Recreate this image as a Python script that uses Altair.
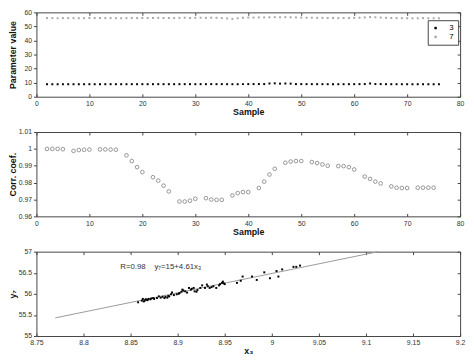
import altair as alt
import pandas as pd

FONT = "Liberation Sans"

# ---------- panel 1: parameter values per sample ----------
samples = list(range(2, 77))
series3 = [8.88, 8.87, 8.86, 8.87, 8.88, 8.87, 8.86, 8.88, 8.89, 8.87,
           8.88, 8.89, 8.90, 8.89, 8.88, 8.90, 8.91, 8.90, 8.92, 8.91,
           8.92, 8.93, 8.92, 8.91, 8.90, 8.93, 8.94, 8.92, 8.91, 8.93,
           8.92, 8.94, 8.93, 8.95, 8.90, 8.89, 8.88, 8.95, 8.96, 8.97,
           8.98, 9.00, 9.40, 9.50, 9.30, 9.40, 9.30, 8.99, 8.97, 8.95,
           8.94, 8.93, 8.92, 8.91, 8.90, 8.89, 8.90, 8.91, 8.92, 8.95,
           8.98, 9.40, 8.99, 8.96, 8.92, 8.90, 8.89, 8.88, 8.87, 8.86,
           8.87, 8.88, 8.87, 8.86, 8.87]
series7 = [55.9, 55.9, 55.8, 55.9, 55.9, 55.9, 55.8, 55.9, 56.0, 55.9,
           56.0, 55.9, 55.9, 55.9, 55.8, 55.9, 56.0, 55.9, 56.0, 56.0,
           56.0, 56.1, 56.0, 56.0, 55.9, 56.1, 56.2, 56.0, 56.1, 56.2,
           56.1, 56.2, 56.1, 55.9, 55.7, 55.4, 55.8, 56.2, 56.3, 56.3,
           56.4, 56.4, 56.5, 56.6, 56.5, 56.6, 56.5, 56.4, 56.3, 56.2,
           56.2, 56.1, 56.1, 56.0, 56.0, 55.9, 56.0, 56.0, 56.1, 56.2,
           56.4, 56.6, 56.5, 56.3, 56.1, 56.0, 55.9, 55.9, 55.8, 55.8,
           55.8, 55.9, 55.8, 55.8, 55.8]
series_names = ["3", "7"]

# ---------- panel 2: correlation coefficient ----------
corr_samples = [2, 3, 4, 5, 7, 8, 9, 10, 12, 13, 14, 15, 17, 18, 19, 20,
                22, 23, 24, 25, 27, 28, 29, 30, 32, 33, 34, 35, 37, 38, 39, 40,
                42, 43, 44, 45, 47, 48, 49, 50, 52, 53, 54, 55, 57, 58, 59, 60,
                62, 63, 64, 65, 67, 68, 69, 70, 72, 73, 74, 75]
corr_values = [1.0, 1.0, 1.0, 0.9998, 0.9988, 0.9993, 0.9995, 0.9996,
               0.9997, 0.9997, 0.9996, 0.9995, 0.9962, 0.9928, 0.9892, 0.9862,
               0.9832, 0.9812, 0.9782, 0.9748, 0.9688, 0.9688, 0.9693, 0.9704,
               0.9708, 0.9700, 0.9698, 0.9698, 0.9724, 0.9738, 0.9744, 0.9744,
               0.9768, 0.9806, 0.9848, 0.9882, 0.9918, 0.9925, 0.9928, 0.9928,
               0.9922, 0.9916, 0.9908, 0.9900, 0.9898, 0.9898, 0.9892, 0.9878,
               0.9836, 0.9822, 0.9806, 0.9795, 0.9778, 0.9770, 0.9768, 0.9768,
               0.9770, 0.9770, 0.9770, 0.9770]

# ---------- panel 3: x3 vs y7 scatter ----------
scatter_x = [8.858, 8.862, 8.863, 8.865, 8.866, 8.868, 8.869, 8.871, 8.874,
             8.875, 8.878, 8.880, 8.882, 8.884, 8.886, 8.887, 8.889, 8.891,
             8.893, 8.894, 8.896, 8.899, 8.901, 8.904, 8.905, 8.906, 8.908,
             8.910, 8.912, 8.914, 8.917, 8.918, 8.920, 8.924, 8.926, 8.929,
             8.931, 8.932, 8.934, 8.938, 8.941, 8.944, 8.945, 8.947, 8.948,
             8.950, 8.963, 8.967, 8.969, 8.979, 8.984, 8.992, 8.998, 9.005,
             9.007, 9.011, 9.023, 9.026, 9.030, 8.864, 8.867, 8.872, 8.890,
             8.902, 8.915, 8.921, 8.936, 8.949]
scatter_y = [55.80, 55.84, 55.88, 55.84, 55.87, 55.85, 55.88, 55.87, 55.90,
             55.88, 55.90, 55.94, 55.91, 55.93, 55.90, 55.93, 55.91, 55.94,
             55.99, 56.03, 55.97, 55.99, 56.00, 56.05, 56.10, 56.08, 56.06,
             56.03, 56.14, 56.10, 56.14, 56.06, 56.05, 56.14, 56.20, 56.14,
             56.22, 56.18, 56.14, 56.18, 56.14, 56.20, 56.23, 56.26, 56.29,
             56.23, 56.26, 56.31, 56.41, 56.41, 56.33, 56.51, 56.37, 56.54,
             56.41, 56.58, 56.64, 56.64, 56.67, 55.82, 55.86, 55.89, 55.95,
             56.02, 56.12, 56.09, 56.16, 56.25]
fit_x = [8.77, 9.113]
fit_y = [55.43, 57.0]
note_x = [8.839]
note_y = [56.64]
note_text = ["R=0.98\u00a0\u00a0\u00a0\u00a0y\u2087=15+4.61x\u2083"]

sample_ticks = [0, 10, 20, 30, 40, 50, 60, 70, 80]
param_ticks = [0, 10, 20, 30, 40, 50, 60]
corr_ticks = [0.96, 0.97, 0.98, 0.99, 1.0, 1.01]
x3_ticks = [8.75, 8.8, 8.85, 8.9, 8.95, 9.0, 9.05, 9.1, 9.15, 9.2]
y7_ticks = [55, 55.5, 56, 56.5, 57]

W, H = 432, 86


def xbottom(values, fmt, title):
    return alt.Axis(values=values, format=fmt, title=title, orient="bottom",
                    domain=False, tickSize=3, offset=-3, labelPadding=3,
                    titlePadding=1)


def yleft(values, fmt, title):
    return alt.Axis(values=values, format=fmt, title=title, orient="left",
                    domain=False, tickSize=3, labelPadding=2, titlePadding=0,
                    minExtent=19, maxExtent=19)


def xtop(values):
    return alt.Axis(values=values, orient="top", labels=False, title=None,
                    domain=False, tickSize=3, offset=-3, minExtent=0,
                    maxExtent=0, labelPadding=0, titlePadding=0)


def yright(values):
    return alt.Axis(values=values, orient="right", labels=False, title=None,
                    domain=False, tickSize=3, offset=-3, minExtent=0,
                    maxExtent=0, labelPadding=0, titlePadding=0)


# ---- panel 1 ----
df1 = pd.DataFrame({
    "Sample": samples + samples,
    "value": series3 + series7,
    "series": [series_names[0]] * len(samples) + [series_names[1]] * len(samples),
})
sx1 = alt.Scale(domain=[0, 80], nice=False)
sy1 = alt.Scale(domain=[0, 60], nice=False)
p1_pts = alt.Chart(df1).mark_square(size=4, opacity=1).encode(
    x=alt.X("Sample:Q", scale=sx1, axis=xbottom(sample_ticks, "d", "Sample")),
    y=alt.Y("value:Q", scale=sy1, axis=yleft(param_ticks, "d", "Parameter value")),
    color=alt.Color("series:N",
                    scale=alt.Scale(domain=series_names, range=["#000000", "#a8a8a8"]),
                    legend=alt.Legend(orient="none", legendX=399, legendY=8,
                                      title=None, padding=4, strokeColor="#444",
                                      fillColor="white", symbolSize=6,
                                      symbolType="square", labelFontSize=8,
                                      labelFont=FONT, rowPadding=1,
                                      labelOffset=10, symbolStrokeWidth=0)),
)
p1_ghost = alt.Chart(df1).mark_point(opacity=0).encode(
    x=alt.X("Sample:Q", scale=sx1, axis=xtop(sample_ticks)),
    y=alt.Y("value:Q", scale=sy1, axis=yright(param_ticks)),
)
p1 = alt.layer(p1_pts, p1_ghost).resolve_axis(x="independent", y="independent").properties(width=W, height=H)

# ---- panel 2 ----
df2 = pd.DataFrame({"Sample": corr_samples, "corr": corr_values})
sy2 = alt.Scale(domain=[0.96, 1.01], nice=False)
p2_pts = alt.Chart(df2).mark_point(shape="circle", size=14, filled=False,
                                   color="#5a5a5a", strokeWidth=0.9).encode(
    x=alt.X("Sample:Q", scale=sx1, axis=xbottom(sample_ticks, "d", "Sample")),
    y=alt.Y("corr:Q", scale=sy2, axis=yleft(corr_ticks, ".2~f", "Corr. coef.")),
)
p2_ghost = alt.Chart(df2).mark_point(opacity=0).encode(
    x=alt.X("Sample:Q", scale=sx1, axis=xtop(sample_ticks)),
    y=alt.Y("corr:Q", scale=sy2, axis=yright(corr_ticks)),
)
p2 = alt.layer(p2_pts, p2_ghost).resolve_axis(x="independent", y="independent").properties(width=W, height=H)

# ---- panel 3 ----
df3 = pd.DataFrame({"x3": scatter_x, "y7": scatter_y})
dfl = pd.DataFrame({"x3": fit_x, "y7": fit_y})
dft = pd.DataFrame({"x3": note_x, "y7": note_y, "t": note_text})
sx3 = alt.Scale(domain=[8.75, 9.2], nice=False)
sy3 = alt.Scale(domain=[55, 57], nice=False)
p3_line = alt.Chart(dfl).mark_line(color="#9a9a9a", strokeWidth=1).encode(
    x=alt.X("x3:Q", scale=sx3, axis=xbottom(x3_ticks, ".2~f", "x\u2083")),
    y=alt.Y("y7:Q", scale=sy3, axis=yleft(y7_ticks, ".1~f", "y\u2087")),
)
p3_ghost = alt.Chart(df3).mark_point(opacity=0).encode(
    x=alt.X("x3:Q", scale=sx3, axis=xtop(x3_ticks)),
    y=alt.Y("y7:Q", scale=sy3, axis=yright(y7_ticks)),
)
p3_pts = alt.Chart(df3).mark_square(size=4, color="#000000", opacity=1).encode(
    x=alt.X("x3:Q", scale=sx3, axis=None),
    y=alt.Y("y7:Q", scale=sy3, axis=None),
)
p3_txt = alt.Chart(dft).mark_text(align="left", baseline="middle", fontSize=8,
                                  font=FONT, color="#333333").encode(
    x=alt.X("x3:Q", scale=sx3, axis=None),
    y=alt.Y("y7:Q", scale=sy3, axis=None),
    text="t:N",
)
p3 = alt.layer(p3_line, p3_ghost, p3_pts, p3_txt).resolve_axis(
    x="independent", y="independent").properties(width=W, height=H)

chart = alt.vconcat(p1, p2, p3, spacing=10).properties(
    padding={"top": -4, "left": 0, "right": 0, "bottom": 0}, background="white"
).configure_view(
    stroke="#444444", strokeWidth=1
).configure_axis(
    labelFont=FONT, titleFont=FONT, labelFontSize=7, titleFontSize=9,
    titleFontWeight="bold", labelColor="#333333", titleColor="#111111",
    tickColor="#444444", domainColor="#444444", grid=False,
    labelFlush=False, labelOverlap=False,
)

chart.save("out.html", embed_options={"renderer": "svg", "actions": False})
